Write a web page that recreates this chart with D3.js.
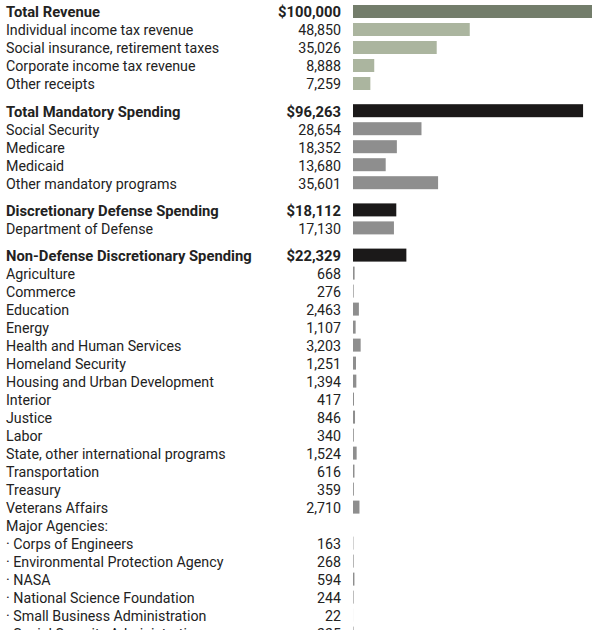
<!DOCTYPE html>
<meta charset="utf-8">
<style>
  body { margin: 0; background: #fff; }
  text { font-family: "Roboto", sans-serif; font-size: 15px; fill: #222; }
  .total text { font-weight: bold; }
</style>
<svg width="614" height="630"></svg>
<script src="https://d3js.org/d3.v7.min.js"></script>
<script>
  var revenueLabels = ["Individual income tax revenue", "Social insurance, retirement taxes", "Corporate income tax revenue", "Other receipts"];
  var revenueValues = [48850, 35026, 8888, 7259];

  var mandatoryLabels = ["Social Security", "Medicare", "Medicaid", "Other mandatory programs"];
  var mandatoryValues = [28654, 18352, 13680, 35601];

  var defenseLabels = ["Department of Defense"];
  var defenseValues = [17130];

  var nonDefenseLabels = ["Agriculture", "Commerce", "Education", "Energy", "Health and Human Services",
    "Homeland Security", "Housing and Urban Development", "Interior", "Justice", "Labor",
    "State, other international programs", "Transportation", "Treasury", "Veterans Affairs"];
  var nonDefenseValues = [668, 276, 2463, 1107, 3203, 1251, 1394, 417, 846, 340, 1524, 616, 359, 2710];

  var agencyLabels = ["Corps of Engineers", "Environmental Protection Agency", "NASA",
    "National Science Foundation", "Small Business Administration", "Social Security Administration"];
  var agencyValues = [163, 268, 594, 244, 22, 225];

  var groupTitles = ["Total Revenue", "Total Mandatory Spending", "Discretionary Defense Spending", "Non-Defense Discretionary Spending"];
  var groupTotals = [100000, 96263, 18112, 22329];

  var svg = d3.select("svg");
  var rowH = 18, gap = 9.2;
  var x = d3.scaleLinear().domain([0, 100000]).range([353, 592]);
  var fmt = d3.format(",");

  // build flat row list
  var rows = [];
  function addGroup(g, labels, values, light, dark) {
    rows.push({ label: groupTitles[g], value: groupTotals[g], total: true, color: dark, group: g });
    labels.forEach(function(l, i) {
      rows.push({ label: l, value: values[i], total: false, color: light, group: g });
    });
  }
  addGroup(0, revenueLabels, revenueValues, "#abb59f", "#737d6b");
  addGroup(1, mandatoryLabels, mandatoryValues, "#8e8e8e", "#1b1919");
  addGroup(2, defenseLabels, defenseValues, "#8e8e8e", "#1b1919");
  addGroup(3, nonDefenseLabels, nonDefenseValues, "#8e8e8e", "#1b1919");
  rows.push({ label: "Major Agencies:", value: null, total: false, group: 3 });
  agencyLabels.forEach(function(l, i) {
    rows.push({ label: "\u00b7 " + l, value: agencyValues[i], total: false, color: "#8e8e8e", group: 3 });
  });

  rows.forEach(function(d, i) { d.y = i * rowH + d.group * gap; });

  var row = svg.selectAll("g.row").data(rows).enter().append("g")
    .attr("class", function(d) { return d.total ? "row total" : "row"; })
    .attr("transform", function(d) { return "translate(0," + d.y + ")"; });

  // the original face is a condensed grotesque, so squeeze Roboto a bit
  function sx(d) { return d.total ? 0.985 : 0.95; }

  row.append("text")
    .attr("transform", function(d) { return "scale(" + sx(d) + ",1)"; })
    .attr("x", function(d) { return 6 / sx(d); }).attr("y", 17.5)
    .text(function(d) { return d.label; });

  row.filter(function(d) { return d.value != null; }).append("text")
    .attr("transform", function(d) { return "scale(" + sx(d) + ",1)"; })
    .attr("x", function(d) { return 341 / sx(d); }).attr("y", 17.5).attr("text-anchor", "end")
    .text(function(d) { return (d.total ? "$" : "") + fmt(d.value); });

  row.filter(function(d) { return d.value != null; }).append("rect")
    .attr("x", x(0)).attr("y", 5).attr("height", 13)
    .attr("width", function(d) { return x(d.value) - x(0); })
    .attr("fill", function(d) { return d.color; });
</script>
